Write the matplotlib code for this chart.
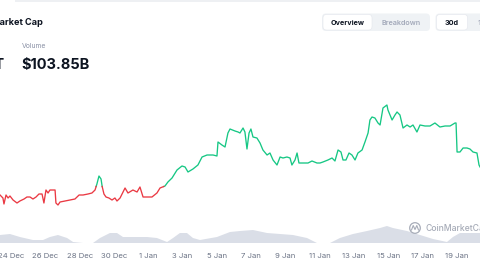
import numpy as np
import matplotlib
matplotlib.use("Agg")
import matplotlib.pyplot as plt
from matplotlib.patches import FancyBboxPatch, Circle

plt.rcParams['font.family'] = ['Inter', 'DejaVu Sans']

# ---------------- data ----------------
# day offsets from 24 Dec 00:00, market cap in chart units
price_day = [-0.64, -0.47, -0.41, -0.29, -0.17, -0.06, 0.12, 0.35, 0.52, 0.76,
             0.93, 1.11, 1.28, 1.46, 1.63, 1.81, 1.92, 2.04, 2.16, 2.27,
             2.45, 2.57, 2.62, 2.74, 2.86, 3.15, 3.44, 3.73, 3.97, 4.20,
             4.49, 4.72, 4.90, 5.01, 5.13, 5.25, 5.31, 5.42, 5.54, 5.71,
             5.89, 6.06, 6.18, 6.36, 6.65, 6.82, 7.11, 7.35, 7.52, 7.70,
             7.93, 8.22, 8.51, 8.69, 8.98, 9.15, 9.39, 9.68, 9.97, 10.15,
             10.32, 10.61, 10.90, 11.14, 11.43, 11.78, 12.01, 12.07, 12.30, 12.48,
             12.65, 12.77, 13.06, 13.24, 13.35, 13.53, 13.64, 13.76, 13.88, 13.99,
             14.11, 14.34, 14.52, 14.69, 14.93, 15.10, 15.28, 15.51, 15.69, 15.86,
             16.09, 16.27, 16.38, 16.56, 16.68, 16.79, 17.03, 17.32, 17.55, 17.84,
             18.02, 18.19, 18.48, 18.72, 18.89, 19.07, 19.24, 19.36, 19.53, 19.71,
             19.88, 20.06, 20.23, 20.47, 20.64, 20.82, 20.93, 21.05, 21.22, 21.40,
             21.52, 21.69, 21.92, 21.98, 22.22, 22.39, 22.51, 22.68, 22.86, 23.09,
             23.27, 23.44, 23.67, 23.85, 24.14, 24.43, 24.72, 25.01, 25.31, 25.60,
             25.89, 25.95, 26.01, 26.18, 26.36, 26.59, 26.76, 26.94, 27.17, 27.29,
             27.35]
price_val = [75, 72, 66, 75, 72, 74, 70, 67, 69, 71,
             73, 73, 71, 73, 76, 76, 67, 80, 77, 80,
             80, 80, 67, 65, 68, 69, 70, 71, 75, 75,
             76, 77, 80, 86, 94, 91, 84, 76, 73, 72,
             70, 72, 69, 72, 82, 77, 80, 78, 83, 73,
             73, 73, 77, 82, 84, 88, 92, 100, 104, 103,
             98, 101, 105, 113, 115, 115, 114, 128, 125, 123,
             137, 141, 139, 138, 137, 142, 138, 121, 137, 141,
             133, 132, 127, 120, 115, 117, 110, 105, 113, 112,
             113, 112, 105, 110, 117, 107, 107, 107, 109, 107,
             107, 108, 110, 112, 109, 120, 118, 110, 110, 117,
             115, 110, 117, 120, 128, 137, 150, 153, 152, 147,
             145, 162, 165, 160, 150, 155, 158, 155, 142, 145,
             143, 145, 138, 145, 144, 144, 147, 143, 144, 144,
             147, 147, 118, 118, 122, 122, 121, 118, 117, 105,
             103]
baseline = 83.5

vol_day = [-0.64, -0.06, 0.52, 1.28, 1.87, 2.27, 2.74, 3.27, 3.62, 4.20,
           4.78, 5.19, 5.77, 6.18, 6.53, 7.11, 7.93, 8.51, 9.10, 9.45,
           9.85, 10.26, 10.61, 11.02, 12.01, 12.77, 13.35, 14.11, 14.93, 15.69,
           16.44, 17.26, 17.84, 18.60, 19.18, 19.94, 20.76, 21.52, 21.92, 22.27,
           23.09, 23.85, 24.61, 25.42, 25.77, 26.18, 26.59, 27.35]
vol_val = [8, 9, 6, 3, 3, 6, 8, 5, 1, 0,
           0, 5, 10, 10, 6, 6, 6, 5, 1, 5,
           10, 10, 5, 3, 6, 11, 12, 13, 10, 9,
           8, 5, 0, 0, 5, 9, 12, 15, 17, 15,
           12, 8, 4, 1, 6, 10, 10, 10]

tick_days = [0, 2, 4, 6, 8, 10, 12, 14, 16, 18, 20, 22, 24, 26]
tick_labels = ["24 Dec", "26 Dec", "28 Dec", "30 Dec", "1 Jan", "3 Jan", "5 Jan",
               "7 Jan", "9 Jan", "11 Jan", "13 Jan", "15 Jan", "17 Jan", "19 Jan"]

GREEN = '#16c784'
RED = '#ea3943'
W, H = 480, 270
XMIN, XMAX = -0.641, 27.347

# ---------------- figure ----------------
fig = plt.figure(figsize=(4.8, 2.7), dpi=100)
fig.patch.set_facecolor('white')

# volume area
vol_ax = fig.add_axes([0, 1 - 243 / H, 1, 60 / H])
vol_ax.fill_between(vol_day, 0, vol_val, color='#dadee7', lw=0)
vol_ax.set_xlim(XMIN, XMAX)
vol_ax.set_ylim(0, 60)
vol_ax.axis('off')

# price line
ax = fig.add_axes([0, 1 - 243 / H, 1, 243 / H])
ax.patch.set_alpha(0)
xs, ys = [], []
for i in range(len(price_day)):
    if i > 0:
        v0, v1 = price_val[i - 1], price_val[i]
        if (v0 - baseline) * (v1 - baseline) < 0:
            t = (baseline - v0) / (v1 - v0)
            xs.append(price_day[i - 1] + t * (price_day[i] - price_day[i - 1]))
            ys.append(baseline)
    xs.append(price_day[i])
    ys.append(price_val[i])
xs = np.array(xs)
ys = np.array(ys, dtype=float)
green = np.where(ys >= baseline, ys, np.nan)
red = np.where(ys <= baseline, ys, np.nan)
ax.plot(xs, green, color=GREEN, lw=0.95, solid_joinstyle='round')
ax.plot(xs, red, color=RED, lw=0.95, solid_joinstyle='round')
ax.set_xlim(XMIN, XMAX)
ax.set_ylim(27, 270)
ax.set_yticks([])
ax.set_xticks(tick_days, tick_labels)
ax.tick_params(axis='x', length=0, pad=7.0, labelsize=5.6, labelcolor='#6b7385')
for s in ax.spines.values():
    s.set_visible(False)

# ---------------- overlay (header, buttons, watermark) ----------------
ov = fig.add_axes([0, 0, 1, 1])
ov.set_xlim(0, W)
ov.set_ylim(H, 0)
ov.axis('off')

ov.fill_between([15, 480], 0, 1.5, color='#eef0f3', lw=0)

dark = '#0d1421'
ov.text(42.5, 25.3, "Market Cap", ha='right', va='baseline', fontsize=6.6,
        fontweight='bold', color=dark)
ov.text(22, 47.7, "Volume", ha='left', va='baseline', fontsize=4.9, color='#8a91a5')
ov.text(4.8, 69, "$3.31T", ha='right', va='baseline', fontsize=10.5,
        fontweight='bold', color=dark)
ov.text(21.5, 69, "$103.85B", ha='left', va='baseline', fontsize=10.5,
        fontweight='bold', color=dark)

# buttons
ov.add_patch(FancyBboxPatch((322, 13.5), 108, 17.5,
                            boxstyle="round,pad=0,rounding_size=4",
                            fc='#eff2f5', ec='none'))
ov.add_patch(FancyBboxPatch((323, 14.5), 49, 15.5,
                            boxstyle="round,pad=0,rounding_size=3.5",
                            fc='white', ec='#e3e6ec', lw=0.4))
ov.text(347.5, 24.8, "Overview", ha='center', va='baseline', fontsize=5.2,
        fontweight='bold', color=dark)
ov.text(401, 24.8, "Breakdown", ha='center', va='baseline', fontsize=5.2,
        fontweight='semibold', color='#a3a9ba')
ov.add_patch(FancyBboxPatch((435.5, 13.5), 60, 17.5,
                            boxstyle="round,pad=0,rounding_size=4",
                            fc='#eff2f5', ec='none'))
ov.add_patch(FancyBboxPatch((436.5, 14.5), 31, 15.5,
                            boxstyle="round,pad=0,rounding_size=3.5",
                            fc='white', ec='#e3e6ec', lw=0.4))
ov.text(452, 24.8, "30d", ha='center', va='baseline', fontsize=5.2,
        fontweight='bold', color=dark)
ov.text(478, 24.8, "1y", ha='left', va='baseline', fontsize=5.2,
        fontweight='semibold', color='#a3a9ba')

# watermark
wm = '#a7acb8'
ov.add_patch(Circle((415, 228), 5.3, fill=False, ec=wm, lw=0.9))
ov.plot([411.5, 413.2, 415, 416.8, 418.5], [230, 225.5, 229.5, 225.5, 230],
        color=wm, lw=0.8)
ov.text(425, 231, "CoinMarketCap", ha='left', va='baseline', fontsize=6.2,
        fontweight='medium', color=wm)

fig.savefig("out.png", dpi=100)
